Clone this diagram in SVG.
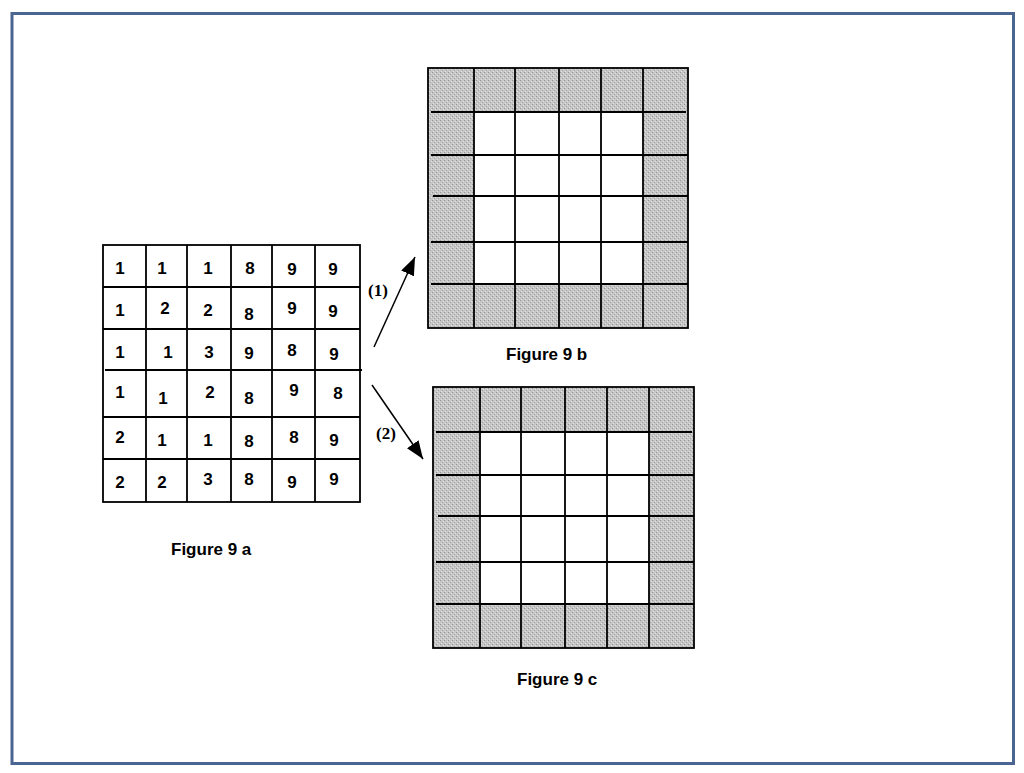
<svg xmlns="http://www.w3.org/2000/svg" width="1024" height="773" viewBox="0 0 1024 773">
<style>
.g{stroke:#000;stroke-width:1.8;fill:none}
.n{font-family:"Liberation Sans",Arial,sans-serif;font-weight:bold;font-size:17px;text-anchor:middle;fill:#000}
.cap{font-family:"Liberation Sans",Arial,sans-serif;font-weight:bold;font-size:17px;fill:#000}
.lbl{font-family:"Liberation Serif","Times New Roman",serif;font-weight:bold;font-size:17px;fill:#000}
.sh{fill:url(#dots)}
</style>
<defs>
<pattern id="dots" width="4" height="4" patternUnits="userSpaceOnUse">
<rect width="4" height="4" fill="#c6c6c6"/>
<rect x="0" y="0" width="1" height="1" fill="#959595"/>
<rect x="2" y="2" width="1" height="1" fill="#a3a3a3"/>
<rect x="1" y="3" width="1" height="1" fill="#e2e2e2"/>
<rect x="3" y="1" width="1" height="1" fill="#e2e2e2"/>
</pattern>
<marker id="ah" markerUnits="userSpaceOnUse" markerWidth="20" markerHeight="14" refX="18" refY="7" orient="auto">
<polygon points="0,0 18,7 0,14" fill="#000"/>
</marker>
</defs>
<rect width="1024" height="773" fill="#fff"/>
<rect x="12" y="13.5" width="1001.5" height="750" fill="none" stroke="#4a6592" stroke-width="3"/>

<g id="fig9a">
<rect x="103" y="245" width="257" height="257" fill="#fff" class="g"/>
<path class="g" d="M146,245V502M187,245V502M231,245V502M272,245V502M315,245V502M103,287H360M103,329H360M105,370H362M103,417H360M103,459H360"/>
<text class="n" x="120" y="274">1</text><text class="n" x="162" y="274">1</text><text class="n" x="208" y="274">1</text><text class="n" x="250" y="274">8</text><text class="n" x="292" y="275">9</text><text class="n" x="333" y="275">9</text>
<text class="n" x="120" y="316">1</text><text class="n" x="165" y="314">2</text><text class="n" x="208" y="316">2</text><text class="n" x="249" y="320">8</text><text class="n" x="292" y="314">9</text><text class="n" x="333" y="317">9</text>
<text class="n" x="120" y="358">1</text><text class="n" x="168" y="358">1</text><text class="n" x="209" y="358">3</text><text class="n" x="249" y="359">9</text><text class="n" x="292" y="356">8</text><text class="n" x="334" y="360">9</text>
<text class="n" x="120" y="398">1</text><text class="n" x="163" y="404">1</text><text class="n" x="210" y="398">2</text><text class="n" x="249" y="404">8</text><text class="n" x="294" y="396">9</text><text class="n" x="338" y="399">8</text>
<text class="n" x="120" y="443">2</text><text class="n" x="162" y="446">1</text><text class="n" x="208" y="446">1</text><text class="n" x="249" y="447">8</text><text class="n" x="294" y="443">8</text><text class="n" x="334" y="446">9</text>
<text class="n" x="120" y="488">2</text><text class="n" x="162" y="488">2</text><text class="n" x="208" y="485">3</text><text class="n" x="249" y="485">8</text><text class="n" x="292" y="488">9</text><text class="n" x="334" y="485">9</text>
<text class="cap" x="171" y="555">Figure 9 a</text>
</g>

<g id="fig9b">
<rect x="428" y="68" width="260" height="260" class="sh"/>
<rect x="474" y="112" width="169" height="172" fill="#fff"/>
<rect x="428" y="68" width="260" height="260" class="g"/>
<path class="g" d="M474,68V328M515,68V328M559,68V328M601,68V328M643,68V328M431,112H686M431,155H688M433,196H688M431,242H688M431,284H688"/>
<text class="cap" x="506" y="360">Figure 9 b</text>
</g>

<g id="fig9c">
<rect x="433" y="387" width="261" height="261" class="sh"/>
<rect x="480" y="432" width="169" height="172" fill="#fff"/>
<rect x="433" y="387" width="261" height="261" class="g"/>
<path class="g" d="M480,387V648M521,387V648M565,387V648M607,387V648M649,387V648M436,432H692M436,475H694M438,516H694M436,562H694M436,604H694"/>
<text class="cap" x="517" y="685">Figure 9 c</text>
</g>

<g id="connectors">
<line x1="374" y1="347" x2="415" y2="257" stroke="#000" stroke-width="1.5" marker-end="url(#ah)"/>
<line x1="372" y1="385" x2="423" y2="459" stroke="#000" stroke-width="1.5" marker-end="url(#ah)"/>
<text class="lbl" x="368" y="296">(1)</text>
<text class="lbl" x="376" y="439">(2)</text>
</g>
</svg>
